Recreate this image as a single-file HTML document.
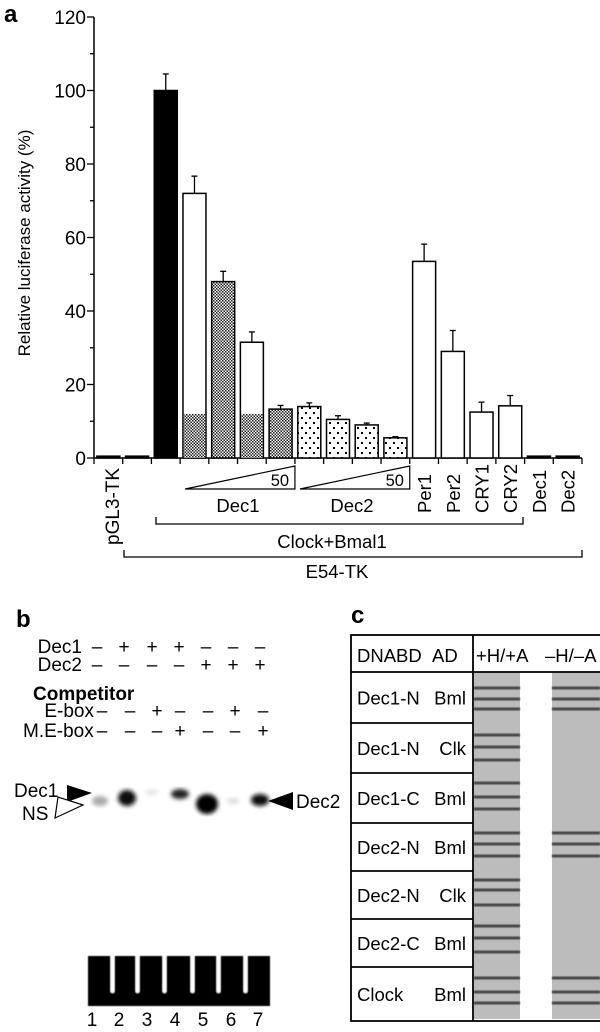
<!DOCTYPE html>
<html><head><meta charset="utf-8"><style>
body{margin:0;background:#fff;}
svg{display:block;font-family:"Liberation Sans",sans-serif;}
</style></head><body>
<svg id="fig" width="600" height="1032" viewBox="0 0 600 1032">
<defs>
<pattern id="check" width="3" height="3" patternUnits="userSpaceOnUse"><rect width="3" height="3" fill="#fff"/><rect width="1.5" height="1.5" fill="#222"/><rect x="1.5" y="1.5" width="1.5" height="1.5" fill="#222"/></pattern>
<pattern id="dots" width="8" height="10" patternUnits="userSpaceOnUse"><rect width="8" height="10" fill="#fff"/><rect x="1" y="2" width="2" height="2" fill="#000"/><rect x="5" y="7" width="2" height="2" fill="#000"/></pattern>
<filter id="blur"><feGaussianBlur stdDeviation="2.2"/></filter>
<filter id="blur1"><feGaussianBlur stdDeviation="0.6"/></filter>
</defs>
<text x="4" y="22" font-size="24" font-weight="bold">a</text>
<g id="chart"></g>
<text transform="translate(30,243) rotate(-90)" text-anchor="middle" font-size="17">Relative luciferase activity (%)</text>

<g>
<text x="16" y="627" font-size="24" font-weight="bold">b</text>
<text x="82" y="653" font-size="19" text-anchor="end">Dec1</text>
<text x="82" y="671" font-size="19" text-anchor="end">Dec2</text>
<text x="33" y="700" font-size="19" font-weight="bold">Competitor</text>
<text x="94" y="717" font-size="19" text-anchor="end">E-box</text>
<text x="23" y="737" font-size="19">M.E-box</text>
<g id="signs" font-size="19" text-anchor="middle"></g>
<g filter="url(#blur)">
<ellipse cx="100" cy="801" rx="8" ry="5" fill="#aaa"/>
<ellipse cx="127" cy="798" rx="9" ry="8" fill="#111"/>
<ellipse cx="152" cy="792" rx="6" ry="3" fill="#e4e4e4"/>
<ellipse cx="180" cy="794" rx="9" ry="5" fill="#222"/>
<ellipse cx="207" cy="804" rx="11" ry="10" fill="#000"/>
<ellipse cx="233" cy="801" rx="6" ry="3" fill="#ddd"/>
<ellipse cx="260" cy="800" rx="9" ry="6" fill="#111"/>
</g>
<polygon points="67,785 92,793 67,802" fill="#000"/>
<polygon points="55,818 83,805 58,797" fill="#fff" stroke="#000" stroke-width="1.2"/>
<polygon points="293,792 268,801 293,810" fill="#000"/>
<text x="14" y="797" font-size="19">Dec1</text>
<text x="22" y="820" font-size="19">NS</text>
<text x="296" y="808" font-size="19">Dec2</text>
<g filter="url(#blur1)">
<rect x="88" y="956" width="182" height="50" fill="#000"/>
<g fill="#fff">
<rect x="110.5" y="950" width="4" height="43" rx="2"/>
<rect x="135.5" y="950" width="4" height="43" rx="2"/>
<rect x="162.5" y="950" width="4" height="43" rx="2"/>
<rect x="190.5" y="950" width="4" height="43" rx="2"/>
<rect x="216.5" y="950" width="4" height="43" rx="2"/>
<rect x="243.5" y="950" width="4" height="43" rx="2"/>
</g>
</g>
<g id="lanenums" font-size="19" text-anchor="middle"></g>
</g>

<g>
<text x="351" y="623" font-size="24" font-weight="bold">c</text>
<rect x="474" y="672" width="46" height="347" fill="#bcbcbc"/>
<rect x="552" y="672" width="48" height="347" fill="#bcbcbc"/>
<g id="yhbands" stroke="#4a4a4a" stroke-width="3" filter="url(#blur1)"></g>
<rect x="351" y="635" width="250" height="386" fill="none" stroke="#000" stroke-width="1.8"/>
<line x1="351" y1="672" x2="600" y2="672" stroke="#000" stroke-width="1.8"/>
<line x1="473" y1="635" x2="473" y2="1021" stroke="#000" stroke-width="1.8"/>
<text x="357" y="662" font-size="18.5">DNABD&#160;&#160;AD</text>
<text x="476" y="662" font-size="18.5">+H/+A</text>
<text x="545" y="662" font-size="18.5">–H/–A</text>
<g id="yhrows" font-size="18.5"></g>
</g>
</svg>
<script>
const NS="http://www.w3.org/2000/svg";
function mk(tag,attrs,parent){const e=document.createElementNS(NS,tag);for(const k in attrs)e.setAttribute(k,attrs[k]);parent.appendChild(e);return e;}
const categories=["pGL3-TK","E54-TK","Clock+Bmal1","Dec1-1","Dec1-2","Dec1-3","Dec1-50","Dec2-1","Dec2-2","Dec2-3","Dec2-50","Per1","Per2","CRY1","CRY2","Dec1","Dec2"];
const values=[0.5,0.5,100,72,48,31.5,13.3,14,10.5,9,5.5,53.5,29,12.5,14.2,0.5,0.5];
const errors=[0,0,4.5,4.7,2.8,2.8,1,1,1,0.5,0.3,4.7,5.7,2.7,2.8,0,0];
const fills=["black","black","black","white-check","check","white-check","check","dots","dots","dots","dots","white","white","white","white","black","black"];
const baseCheck=[0,0,0,12,0,12,0,0,0,0,0,0,0,0,0,0,0];
const yTicks=[0,20,40,60,80,100,120];
const xLabelsRot=["Per1","Per2","CRY1","CRY2","Dec1","Dec2"];

const g=document.getElementById('chart');
const X0=94,X1=582,Y0=458,Y1=17,YMAX=120;
const bw=(X1-X0)/categories.length;
const y=v=>Y0-(v/YMAX)*(Y0-Y1);
const xc=i=>X0+bw*(i+0.5);
let a=mk('line',{x1:X0,y1:Y0,x2:X0,y2:Y1,stroke:'#000','stroke-width':1.5},g);

a=mk('line',{x1:X0,y1:Y0,x2:X1,y2:Y0,stroke:'#000','stroke-width':1.5},g);

for(let v=0;v<=YMAX;v+=10){mk('line',{x1:X0-(v%20?4:7),y1:y(v),x2:X0,y2:y(v),stroke:'#000','stroke-width':1.3},g);}
yTicks.forEach(v=>{const t=mk('text',{x:86,y:y(v)+7,'text-anchor':'end','font-size':19},g);t.textContent=v;
});
for(let i=0;i<=categories.length;i++){mk('line',{x1:X0+bw*i,y1:Y0,x2:X0+bw*i,y2:Y0+6,stroke:'#000','stroke-width':1.3},g);}
categories.forEach((c,i)=>{
 const w=23,x=xc(i)-w/2,top=y(values[i]),h=Y0-top;
 const f=fills[i];
 let fill=f==='black'?'#000':f==='check'?'url(#check)':f==='dots'?'url(#dots)':'#fff';
 const r=mk('rect',{x:x,y:top,width:w,height:h,fill:fill,stroke:'#000','stroke-width':1.5},g);
 
 if(baseCheck[i]>0){mk('rect',{x:x+0.8,y:y(baseCheck[i]),width:w-1.6,height:Y0-y(baseCheck[i]),fill:'url(#check)'},g);}
 if(errors[i]>0){const ey=y(values[i]+errors[i]);
  mk('line',{x1:xc(i),y1:top,x2:xc(i),y2:ey,stroke:'#000','stroke-width':1.3},g);
  mk('line',{x1:xc(i)-3,y1:ey,x2:xc(i)+3,y2:ey,stroke:'#000','stroke-width':1.3},g);}
});
[[3,"Dec1",238],[7,"Dec2",352]].forEach(([s,name,lx])=>{
 const xa=X0+bw*s+5,xb=X0+bw*(s+4);
 const p=mk('polygon',{points:`${xa},489 ${xb},466 ${xb},489`,fill:'#fff',stroke:'#000','stroke-width':1.2},g);
 
 const t=mk('text',{x:xb-15,y:486,'text-anchor':'middle','font-size':16.5},g);t.textContent='50';
 const l=mk('text',{x:lx,y:512,'text-anchor':'middle','font-size':18.5},g);l.textContent=name;
 
});
xLabelsRot.forEach((s,k)=>{const i=11+k;const t=mk('text',{transform:`translate(${xc(i)+7},513) rotate(-90)`,'text-anchor':'start','font-size':18.5},g);t.textContent=s;
});
let pg=mk('text',{transform:`translate(119,545) rotate(-90)`,'text-anchor':'start','font-size':19},g);pg.textContent='pGL3-TK';

function bracket(x1,x2,yy,label,tx,ty,name){
 mk('polyline',{points:`${x1},${yy-7} ${x1},${yy} ${x2},${yy} ${x2},${yy-7}`,fill:'none',stroke:'#000','stroke-width':1.3},g);
 const t=mk('text',{x:tx,y:ty,'text-anchor':'middle','font-size':18.5},g);t.textContent=label;
 }
bracket(156,523,524,'Clock+Bmal1',332,548,'clock-bmal1-bracket-label');
bracket(124,582,557,'E54-TK',337,578,'e54-tk-bracket-label');

const laneX=[97,124,152,179,206,233,260];
const eX=[102,130,157,180,208,235,263];
const dec1=["–","+","+","+","–","–","–"],dec2=["–","–","–","–","+","+","+"],ebox=["–","–","+","–","–","+","–"],mebox=["–","–","–","+","–","–","+"];
const sg=document.getElementById('signs');
[[dec1,653,laneX],[dec2,671,laneX],[ebox,717,eX],[mebox,737,eX]].forEach(([arr,yy,xs])=>arr.forEach((s,i)=>{const t=mk('text',{x:xs[i],y:yy},sg);t.textContent=s;}));
const ln=document.getElementById('lanenums');
const lnX=[92,119,147,175,203,231,258];
for(let i=0;i<7;i++){const t=mk('text',{x:lnX[i],y:1026},ln);t.textContent=i+1;
}

const rows=[["Dec1-N","Bml"],["Dec1-N","Clk"],["Dec1-C","Bml"],["Dec2-N","Bml"],["Dec2-N","Clk"],["Dec2-C","Bml"],["Clock","Bml"]];
const rowTop=[672,723,773,823,871,919,967,1021];
const bandY=[[688,699,709],[735,747,760],[783,797,809],[833,844,856],[880,890,905],[926,938,952],[978,992,1003]];
const minusGrowth=[1,0,0,1,0,0,1];
const rg=document.getElementById('yhrows'),bg=document.getElementById('yhbands');
rows.forEach((r,i)=>{
 if(i>0)mk('line',{x1:351,y1:rowTop[i],x2:473,y2:rowTop[i],stroke:'#000','stroke-width':1.8},rg);
 const my=(rowTop[i]+rowTop[i+1])/2+7;
 const t=mk('text',{x:357,y:my},rg);t.textContent=r[0];
 
 const t2=mk('text',{x:466,y:my,'text-anchor':'end'},rg);t2.textContent=r[1];
 bandY[i].forEach(yy=>{
  mk('line',{x1:474,y1:yy,x2:520,y2:yy},bg);
  if(minusGrowth[i])mk('line',{x1:552,y1:yy,x2:600,y2:yy},bg);});
});
</script>
</body></html>
